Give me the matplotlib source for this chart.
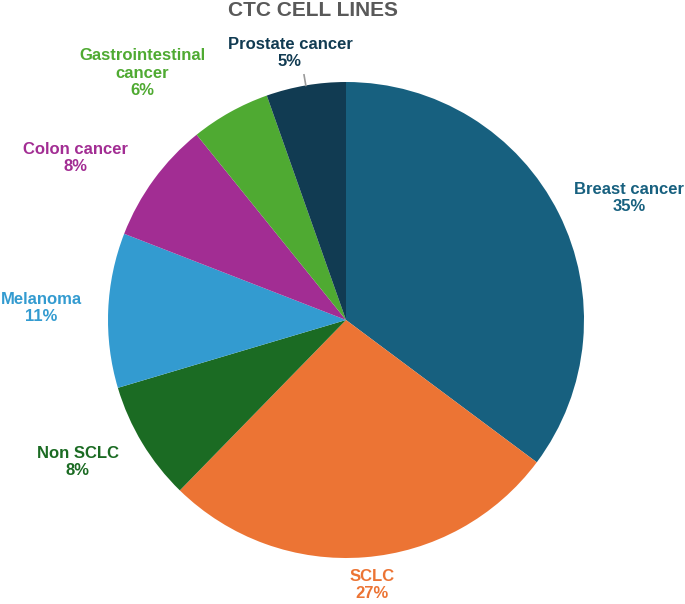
import numpy as np
import matplotlib.pyplot as plt

plt.rcParams['font.family'] = ['Liberation Sans', 'DejaVu Sans']

labels = ["Breast cancer", "SCLC", "Non SCLC", "Melanoma", "Colon cancer",
          "Gastrointestinal\ncancer", "Prostate cancer"]
pct_text = ["35%", "27%", "8%", "11%", "8%", "6%", "5%"]
shares = [35.2, 27.1, 8.1, 10.5, 8.3, 5.4, 5.4]
colors = ["#17607F", "#EC7434", "#1B6B23", "#339BD0", "#A22D93", "#4FAA32", "#113B52"]
# label centres in pixel coords of the picture (x, y from top)
label_xy = [(629, 198), (372, 585), (78, 462), (41, 308), (76, 158), (142, 73), (290, 53)]

W, H = 685, 604
fig = plt.figure(figsize=(W / 100, H / 100), dpi=100)
ax = fig.add_axes([0, 0, 1, 1])

cx, cy, r = 346, H - 320, 238
wedges, _ = ax.pie(shares, colors=colors, startangle=90, counterclock=False,
                   center=(cx, cy), radius=r, frame=True,
                   wedgeprops=dict(linewidth=0))
ax.set_xlim(0, W)
ax.set_ylim(0, H)
ax.axis('off')

for lab, p, col, (x, y) in zip(labels, pct_text, colors, label_xy):
    ax.text(x, H - y, lab + "\n" + p, color=col, fontsize=12, fontweight='bold',
            ha='center', va='center', linespacing=1.2)

# leader line for the small prostate slice
w = wedges[-1]
mid = np.deg2rad((w.theta1 + w.theta2) / 2)
ax.plot([cx + r * np.cos(mid), cx + r * 1.045 * np.cos(mid)],
        [cy + r * np.sin(mid), cy + r * 1.045 * np.sin(mid)],
        color="#9a9a9a", lw=1.2)

ax.text(313, H - 11, "CTC CELL LINES", color="#595959", fontsize=15,
        fontweight='bold', ha='center', va='center')

fig.savefig("out.png", dpi=100)
